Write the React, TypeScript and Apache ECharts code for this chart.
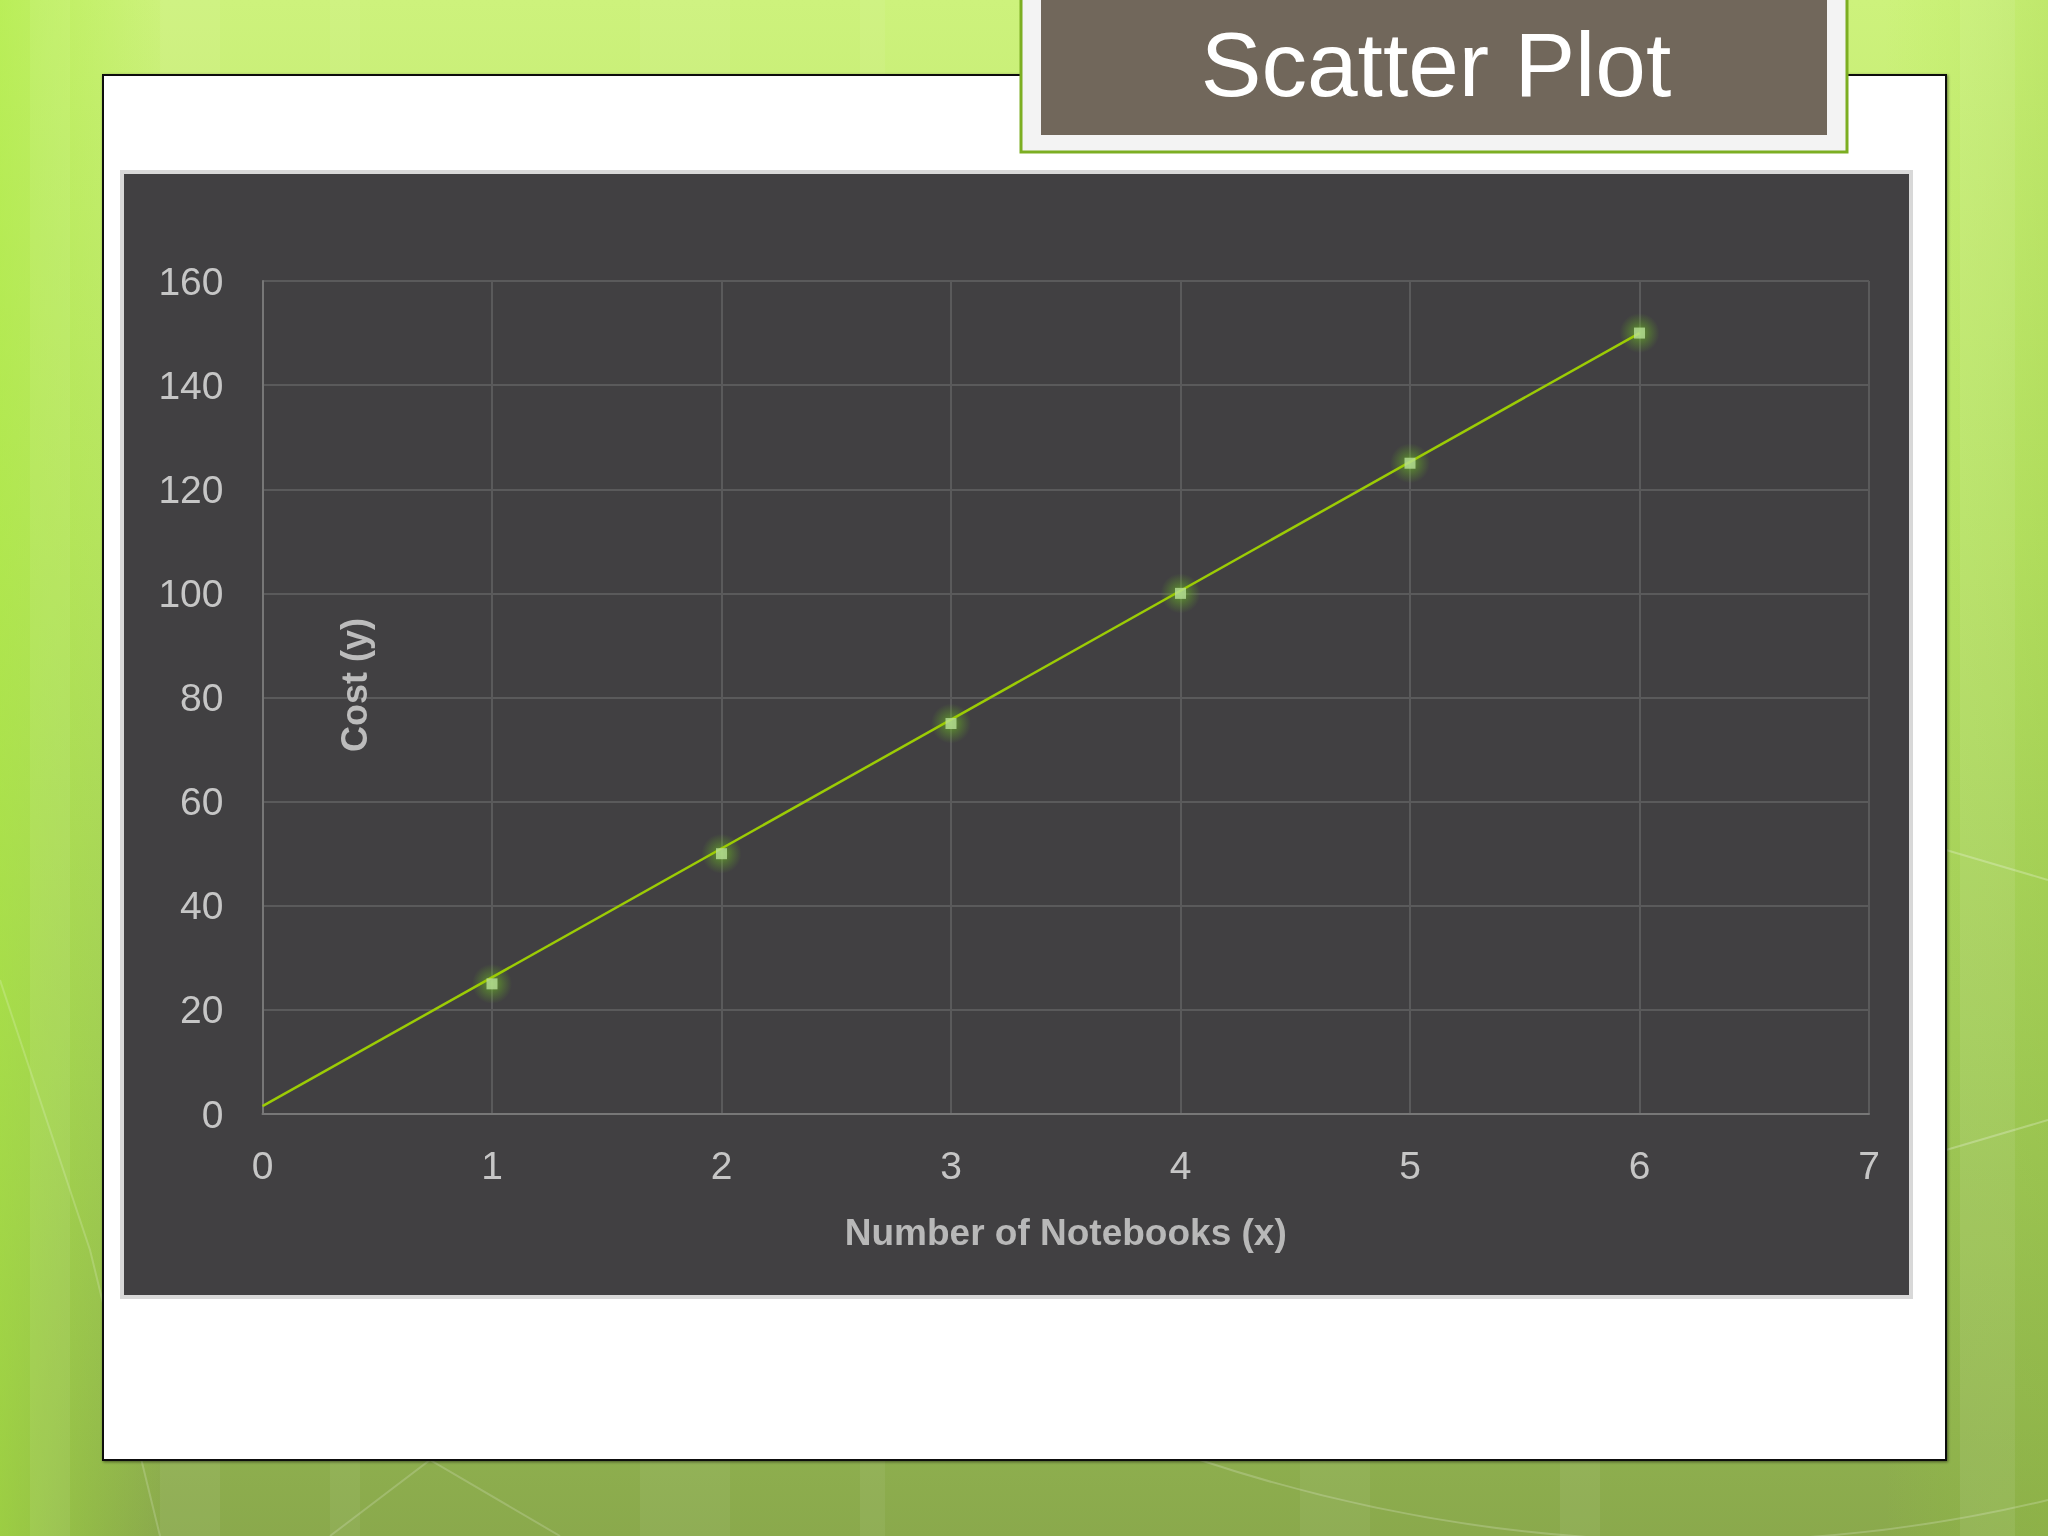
import React, { useEffect, useRef } from "react";
import * as echarts from "echarts";

const xTicks = [0, 1, 2, 3, 4, 5, 6, 7];
const yTicks = [0, 20, 40, 60, 80, 100, 120, 140, 160];
const notebooks = [1, 2, 3, 4, 5, 6];
const cost = [25, 50, 75, 100, 125, 150];
const trendX = [0, 6];
const trendY = [1.5, 150];
const titleText = "Scatter Plot";
const xName = "Number of Notebooks (x)";
const yName = "Cost (y)";

export default function App() {
  const ref = useRef<HTMLDivElement>(null);
  useEffect(() => {
    if (!ref.current) return;
    const chart = echarts.init(ref.current, null, { renderer: "svg" });

    const gridLeft = 262.5;
    const gridTop = 281;
    const gridRight = 1869;
    const gridBottom = 1114;

    const stripes = [
      { x: 30, w: 40, o: 0.07 },
      { x: 160, w: 60, o: 0.06 },
      { x: 330, w: 30, o: 0.05 },
      { x: 640, w: 90, o: 0.05 },
      { x: 860, w: 25, o: 0.06 },
      { x: 1300, w: 70, o: 0.05 },
      { x: 1560, w: 40, o: 0.06 },
      { x: 1960, w: 55, o: 0.08 },
    ];

    const option: any = {
      animation: false,
      backgroundColor: "transparent",
      graphic: [
        {
          type: "rect",
          z: -10,
          shape: { x: 0, y: 0, width: 2048, height: 1536 },
          style: {
            fill: {
              type: "linear",
              x: 0, y: 0, x2: 0, y2: 1,
              colorStops: [
                { offset: 0, color: "#cdf27c" },
                { offset: 0.35, color: "#b8e266" },
                { offset: 0.7, color: "#9fc758" },
                { offset: 1, color: "#8aa94c" },
              ],
            },
          },
          silent: true,
        },
        {
          type: "rect",
          z: -9,
          shape: { x: 0, y: 0, width: 2048, height: 1536 },
          style: {
            fill: {
              type: "linear",
              x: 0, y: 0, x2: 1, y2: 0,
              colorStops: [
                { offset: 0, color: "rgba(170,235,60,0.55)" },
                { offset: 0.08, color: "rgba(170,235,60,0.0)" },
                { offset: 0.92, color: "rgba(170,235,60,0.0)" },
                { offset: 1, color: "rgba(150,200,60,0.25)" },
              ],
            },
          },
          silent: true,
        },
        ...stripes.map((s) => ({
          type: "rect",
          z: -8,
          shape: { x: s.x, y: 0, width: s.w, height: 1536 },
          style: { fill: `rgba(255,255,255,${s.o})` },
          silent: true,
        })),
        {
          type: "polyline",
          z: -8,
          shape: { points: [[0, 980], [90, 1250], [160, 1536]] },
          style: { stroke: "rgba(255,255,255,0.18)", lineWidth: 2, fill: null },
          silent: true,
        },
        {
          type: "polyline",
          z: -8,
          shape: { points: [[330, 1536], [430, 1460], [560, 1536]] },
          style: { stroke: "rgba(255,255,255,0.18)", lineWidth: 2, fill: null },
          silent: true,
        },
        {
          type: "bezierCurve",
          z: -8,
          shape: { x1: 1200, y1: 1460, x2: 2048, y2: 1500, cpx1: 1500, cpy1: 1560, cpx2: 1800, cpy2: 1560 },
          style: { stroke: "rgba(255,255,255,0.2)", lineWidth: 2, fill: null },
          silent: true,
        },
        {
          type: "polyline",
          z: -8,
          shape: { points: [[1946, 850], [2048, 880]] },
          style: { stroke: "rgba(255,255,255,0.25)", lineWidth: 2, fill: null },
          silent: true,
        },
        {
          type: "polyline",
          z: -8,
          shape: { points: [[1946, 1150], [2048, 1120]] },
          style: { stroke: "rgba(255,255,255,0.25)", lineWidth: 2, fill: null },
          silent: true,
        },
        {
          type: "rect",
          z: -5,
          shape: { x: 103, y: 75, width: 1843, height: 1385 },
          style: {
            fill: "#ffffff",
            stroke: "#111111",
            lineWidth: 2,
            shadowBlur: 3,
            shadowOffsetX: 1,
            shadowOffsetY: 1,
            shadowColor: "rgba(0,0,0,0.5)",
          },
          silent: true,
        },
        {
          type: "rect",
          z: -4,
          shape: { x: 122, y: 172, width: 1789, height: 1125 },
          style: { fill: "#414042", stroke: "#d8d8d8", lineWidth: 4 },
          silent: true,
        },
        {
          type: "rect",
          z: 10,
          shape: { x: 1021, y: -6, width: 826, height: 158 },
          style: { fill: "#f3f3f3", stroke: "#7cae22", lineWidth: 3 },
          silent: true,
        },
        {
          type: "rect",
          z: 11,
          shape: { x: 1041, y: 0, width: 786, height: 135 },
          style: { fill: "#71675b" },
          silent: true,
        },
        {
          type: "text",
          z: 12,
          x: 1436,
          y: 64,
          style: {
            text: titleText,
            fill: "#ffffff",
            font: "91px 'Liberation Sans', Arial, sans-serif",
            align: "center",
            verticalAlign: "middle",
          },
          silent: true,
        },
        {
          type: "text",
          z: 5,
          x: 354,
          y: 685,
          rotation: Math.PI / 2,
          style: {
            text: yName,
            fill: "#bcbcbc",
            font: "bold 36px 'Liberation Sans', Arial, sans-serif",
            align: "center",
            verticalAlign: "middle",
          },
          silent: true,
        },
      ],
      grid: {
        left: gridLeft,
        top: gridTop,
        width: gridRight - gridLeft,
        height: gridBottom - gridTop,
        containLabel: false,
      },
      xAxis: {
        type: "value",
        min: xTicks[0],
        max: xTicks[xTicks.length - 1],
        interval: 1,
        axisLine: { show: true, onZero: false, lineStyle: { color: "#777777", width: 2 } },
        axisTick: { show: false },
        splitLine: { show: true, lineStyle: { color: "#5a5a5b", width: 2 } },
        axisLabel: {
          color: "#c6c6c6",
          fontSize: 39,
          fontFamily: "'Liberation Sans', Arial, sans-serif",
          margin: 32,
        },
        name: xName,
        nameLocation: "middle",
        nameGap: 100,
        nameTextStyle: {
          color: "#b8b8b8",
          fontSize: 37,
          fontWeight: "bold",
          fontFamily: "'Liberation Sans', Arial, sans-serif",
        },
      },
      yAxis: {
        type: "value",
        min: yTicks[0],
        max: yTicks[yTicks.length - 1],
        interval: 20,
        axisLine: { show: true, onZero: false, lineStyle: { color: "#777777", width: 2 } },
        axisTick: { show: false },
        splitLine: { show: true, lineStyle: { color: "#5a5a5b", width: 2 } },
        axisLabel: {
          color: "#c6c6c6",
          fontSize: 39,
          fontFamily: "'Liberation Sans', Arial, sans-serif",
          margin: 39,
        },
      },
      series: [
        {
          type: "scatter",
          data: notebooks.map((x, i) => [x, cost[i]]),
          symbol: "circle",
          symbolSize: 40,
          silent: true,
          itemStyle: {
            color: {
              type: "radial",
              x: 0.5, y: 0.5, r: 0.5,
              colorStops: [
                { offset: 0, color: "rgba(120,200,40,0.85)" },
                { offset: 0.4, color: "rgba(110,190,35,0.5)" },
                { offset: 1, color: "rgba(100,180,30,0)" },
              ],
            },
          },
          z: 2,
        },
        {
          type: "line",
          data: trendX.map((x, i) => [x, trendY[i]]),
          symbol: "none",
          lineStyle: { color: "#9ccc05", width: 2.5 },
          z: 3,
        },
        {
          type: "scatter",
          data: notebooks.map((x, i) => [x, cost[i]]),
          symbol: "rect",
          symbolSize: 11,
          itemStyle: { color: "#b8e096" },
          z: 4,
        },
      ],
    };

    chart.setOption(option);
    return () => chart.dispose();
  }, []);

  return (
    <div
      ref={ref}
      style={{ position: "fixed", left: 0, top: 0, width: 2048, height: 1536 }}
    />
  );
}
